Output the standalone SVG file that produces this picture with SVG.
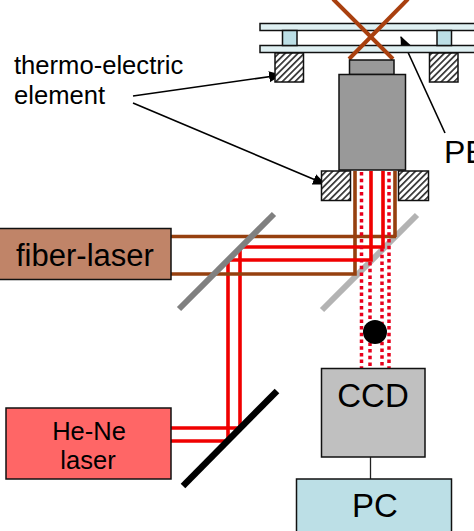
<svg xmlns="http://www.w3.org/2000/svg" width="474" height="531" viewBox="0 0 474 531">
<style>
.box{stroke:#111;stroke-width:1.5}
.t{font-family:"Liberation Sans",Arial,sans-serif;fill:#000}
.br{stroke:#96400f;stroke-width:3.6;fill:none}
.rd{stroke:#f00000;stroke-width:3.6;fill:none}
.dot{stroke:#e8001c;stroke-width:3.5;stroke-dasharray:3.5 3.2;fill:none}
.ar{stroke:#000;stroke-width:1.6;fill:none;marker-end:url(#a)}
</style>
<defs>
<marker id="a" markerUnits="userSpaceOnUse" markerWidth="14" markerHeight="12" refX="12" refY="5.5" orient="auto"><path d="M0 0L13 5.5L0 11z" fill="#000"/></marker>
<pattern id="h" width="4.500" height="4.500" patternUnits="userSpaceOnUse" patternTransform="rotate(-45)"><rect width="4.500" height="4.500" fill="#fff"/><rect width="4.500" height="1.700" fill="#333"/></pattern>
</defs>
<g id="mirrors">
<path d="M322 310L417 215" stroke="#b3b3b3" stroke-width="6"/>
</g>
<g id="connectors">
<path class="rd" d="M171 428H238M171 441H226M228 440V260M240 428V247"/>
<path class="br" d="M171 236.500H396M171 274H355V171M395 171V237"/>
<path class="rd" d="M243 247H383V171M230 260H371V171"/>
<path class="dot" d="M361.500 172V368M389 172V368M370 262V368M382 248V368"/>
<path d="M370.500 457V479" stroke="#222" stroke-width="1.300"/>
<path class="ar" d="M133 96L281 75"/>
<path class="ar" d="M133 103L325 184"/>
<path class="ar" d="M445 133L401 37"/>
</g>
<g id="sample">
<rect class="box" x="260" y="23.500" width="216" height="7" fill="#dff0f2"/>
<rect class="box" x="260" y="45.500" width="216" height="7" fill="#dff0f2"/>
<rect class="box" x="282.500" y="30.500" width="14.500" height="15" fill="#bcdfe6"/>
<rect class="box" x="437" y="30.500" width="14.500" height="15" fill="#bcdfe6"/>
</g>
<g id="cross">
<path d="M333 -1L393 59M408 -1L349 59" stroke="#a9400f" stroke-width="4" fill="none"/>
</g>
<g id="elements">
<rect class="box" x="275" y="53" width="28.500" height="29" fill="url(#h)"/>
<rect class="box" x="429.500" y="53" width="28.500" height="29" fill="url(#h)"/>
<rect class="box" x="321.500" y="171" width="29" height="29.500" fill="url(#h)"/>
<rect class="box" x="398.500" y="171" width="30" height="29.500" fill="url(#h)"/>
</g>
<g id="objective">
<rect class="box" x="349.500" y="60" width="44.500" height="14.500" fill="#999"/>
<rect class="box" x="339" y="74.500" width="66.500" height="95.500" fill="#999"/>
</g>
<g id="mirrors2">
<path d="M179 309L274 214" stroke="#808080" stroke-width="6"/>
<path d="M183 486L277 391" stroke="#000" stroke-width="6.500"/>
</g>
<circle id="spot" cx="375" cy="332" r="12" fill="#000"/>
<g id="fiber-laser">
<rect class="box" x="-2" y="228.500" width="173" height="51" fill="#c08468"/>
<text class="t" x="16" y="266" font-size="31">fiber-laser</text>
</g>
<g id="he-ne">
<rect class="box" x="6" y="408" width="165" height="71" fill="#ff6666"/>
<text class="t" x="89" y="440" font-size="25.500" text-anchor="middle">He-Ne</text>
<text class="t" x="88" y="469" font-size="25.500" text-anchor="middle">laser</text>
</g>
<g id="ccd">
<rect class="box" x="321.500" y="368.500" width="103.500" height="88.500" fill="#c0c0c0"/>
<text class="t" x="373" y="407" font-size="33" text-anchor="middle">CCD</text>
</g>
<g id="pc">
<rect class="box" x="296.500" y="479" width="155" height="54" fill="#bcdfe6"/>
<text class="t" x="375" y="517" font-size="33" text-anchor="middle">PC</text>
</g>
<g id="labels">
<text class="t" x="14" y="73.500" font-size="25.600">thermo-electric</text>
<text class="t" x="14" y="104" font-size="25.600">element</text>
<text class="t" x="444" y="163" font-size="32">PE</text>
</g>
</svg>
